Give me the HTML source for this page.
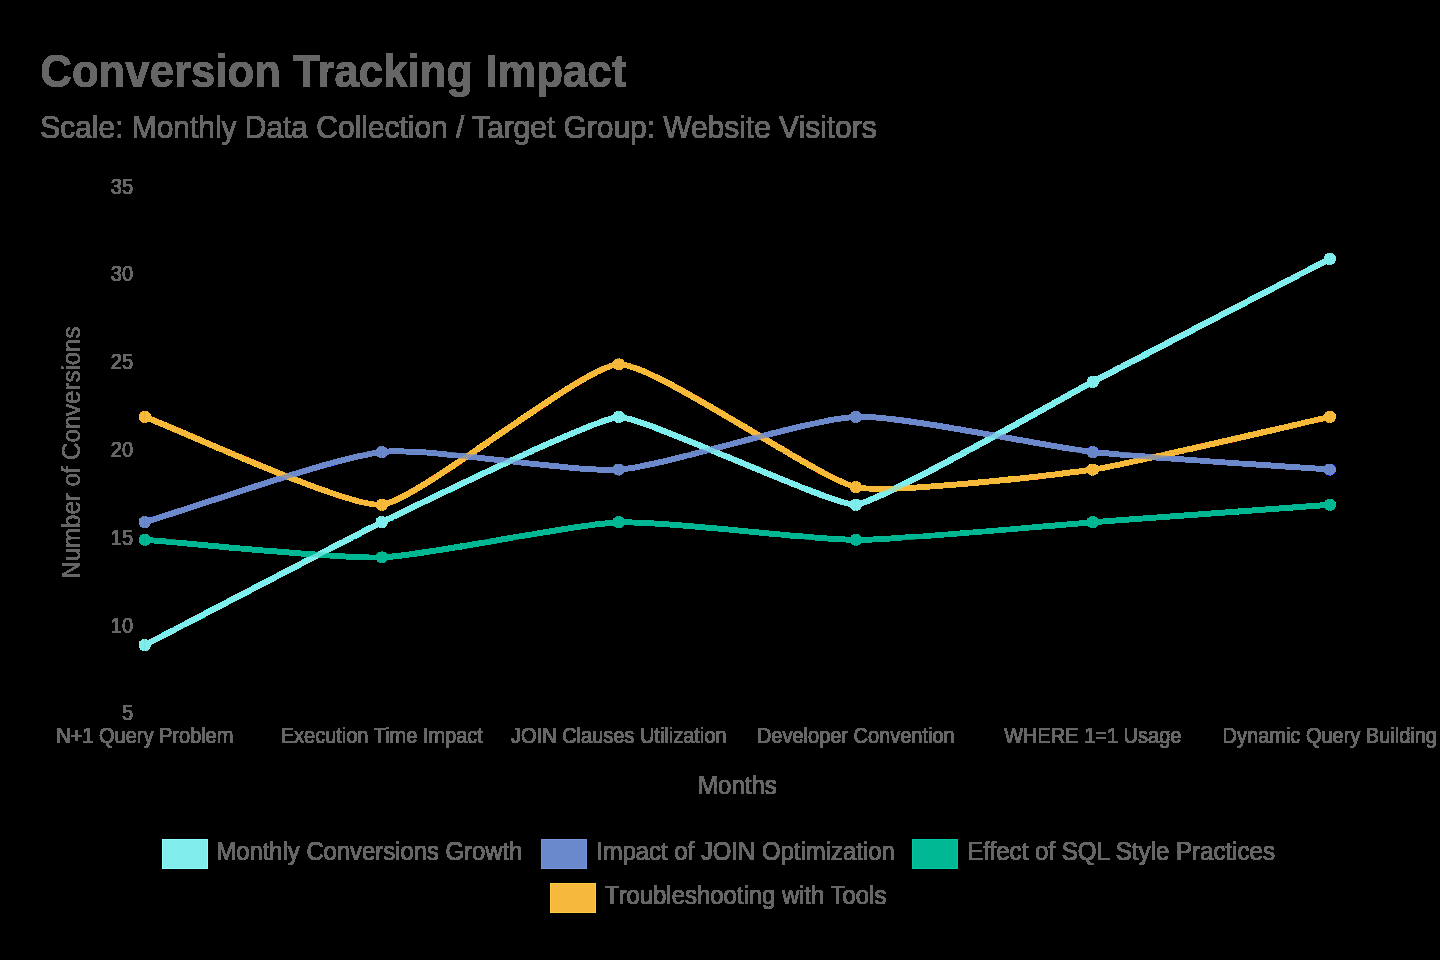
<!DOCTYPE html>
<html><head><meta charset="utf-8"><title>Conversion Tracking Impact</title>
<style>
html,body{margin:0;padding:0;background:#000;}
body{width:1440px;height:960px;overflow:hidden;font-family:"Liberation Sans",sans-serif;}
svg{display:block;position:absolute;left:0;top:0;}
text{font-family:"Liberation Sans",sans-serif;fill:#666666;}
</style></head><body>
<svg width="1440" height="960" viewBox="0 0 1440 960">
<defs><filter id="harden" x="0" y="0" width="1440" height="960" filterUnits="userSpaceOnUse" color-interpolation-filters="sRGB"><feComponentTransfer><feFuncA type="discrete" tableValues="0 1 1 1 1 1 1 1 1 1 1 1 1 1 1 1 1 1 1 1 1 1 1 1 1 1 1 1 1 1 1 1 1 1 1 1 1 1 1 1 1 1 1 1 1 1 1 1 1 1 1 1 1 1 1 1 1 1 1 1 1 1 1 1 1 1 1 1 1 1 1 1 1 1 1 1 1 1 1 1 1 1 1 1 1 1 1 1 1 1 1 1 1 1 1 1 1 1 1 1 1 1 1 1 1 1 1 1 1 1 1 1 1 1 1 1 1 1 1 1 1 1 1 1 1 1 1 1 1 1 1 1 1 1 1 1 1 1 1 1 1 1 1 1 1 1 1 1 1 1 1 1 1 1 1 1 1 1 1 1 1 1 1 1 1 1 1 1 1 1 1 1 1 1 1 1 1 1 1 1 1 1 1 1 1 1 1 1 1 1 1 1 1 1 1 1 1 1 1 1 1 1 1 1 1 1 1 1 1 1 1 1 1 1 1 1 1 1 1 1 1 1 1 1 1 1 1 1 1 1 1 1 1 1 1 1 1 1 1 1 1 1 1 1 1 1 1 1 1 1 1 1 1 1 1 1"/></feComponentTransfer></filter><filter id="thr" x="0" y="0" width="1440" height="960" filterUnits="userSpaceOnUse" color-interpolation-filters="sRGB"><feComponentTransfer><feFuncA type="discrete" tableValues="0 1 1 1 1 1 1 1"/></feComponentTransfer></filter></defs>
<rect width="1440" height="960" fill="#000"/>
<g filter="url(#harden)">
<text transform="translate(40.30,87.20) scale(1,1.05)" font-size="43.76" font-weight="bold">Conversion Tracking Impact</text>
<text transform="translate(40.30,137.60) scale(1,1.05)" font-size="29.93">Scale: Monthly Data Collection / Target Group: Website Visitors</text>
<text transform="translate(133.00,720.33) scale(1,1.08)" font-size="20" text-anchor="end">5</text>
<text transform="translate(133.00,632.55) scale(1,1.08)" font-size="20" text-anchor="end">10</text>
<text transform="translate(133.00,544.77) scale(1,1.08)" font-size="20" text-anchor="end">15</text>
<text transform="translate(133.00,457.00) scale(1,1.08)" font-size="20" text-anchor="end">20</text>
<text transform="translate(133.00,369.23) scale(1,1.08)" font-size="20" text-anchor="end">25</text>
<text transform="translate(133.00,281.45) scale(1,1.08)" font-size="20" text-anchor="end">30</text>
<text transform="translate(133.00,193.68) scale(1,1.08)" font-size="20" text-anchor="end">35</text>
<text transform="translate(144.80,743.00) scale(1,1.08)" font-size="20" text-anchor="middle">N+1 Query Problem</text>
<text transform="translate(381.80,743.00) scale(1,1.08)" font-size="20" text-anchor="middle">Execution Time Impact</text>
<text transform="translate(618.80,743.00) scale(1,1.08)" font-size="20" text-anchor="middle">JOIN Clauses Utilization</text>
<text transform="translate(855.80,743.00) scale(1,1.08)" font-size="20" text-anchor="middle">Developer Convention</text>
<text transform="translate(1092.80,743.00) scale(1,1.08)" font-size="20" text-anchor="middle">WHERE 1=1 Usage</text>
<text transform="translate(1329.80,743.00) scale(1,1.08)" font-size="20" text-anchor="middle">Dynamic Query Building</text>
<text transform="translate(737.40,793.60) scale(1,1.05)" font-size="24" text-anchor="middle">Months</text>
<rect x="144" y="188.68" width="1" height="526.65" fill="#000" fill-opacity="0.1"/>
<rect x="381" y="188.68" width="1" height="526.65" fill="#000" fill-opacity="0.1"/>
<rect x="618" y="188.68" width="1" height="526.65" fill="#000" fill-opacity="0.1"/>
<rect x="855" y="188.68" width="1" height="526.65" fill="#000" fill-opacity="0.1"/>
<rect x="1092" y="188.68" width="1" height="526.65" fill="#000" fill-opacity="0.1"/>
<rect x="1329" y="188.68" width="1" height="526.65" fill="#000" fill-opacity="0.1"/>
<rect x="144.80" y="715" width="1185.00" height="1" fill="#000" fill-opacity="0.1"/>
<rect x="144.80" y="627" width="1185.00" height="1" fill="#000" fill-opacity="0.1"/>
<rect x="144.80" y="539" width="1185.00" height="1" fill="#000" fill-opacity="0.1"/>
<rect x="144.80" y="452" width="1185.00" height="1" fill="#000" fill-opacity="0.1"/>
<rect x="144.80" y="364" width="1185.00" height="1" fill="#000" fill-opacity="0.1"/>
<rect x="144.80" y="276" width="1185.00" height="1" fill="#000" fill-opacity="0.1"/>
<rect x="144.80" y="188" width="1185.00" height="1" fill="#000" fill-opacity="0.1"/>
<path d="M144.80,416.89 C180.35,430.06 347.78,508.44 381.80,504.67 C418.88,500.54 582.69,365.56 618.80,364.23 C653.79,362.93 818.18,478.75 855.80,487.11 C889.28,494.55 1057.63,474.77 1092.80,469.56 C1128.73,464.23 1294.25,424.79 1329.80,416.89" fill="none" stroke="#f6b93b" stroke-opacity="0.6" stroke-width="5.0" stroke-linejoin="miter" stroke-linecap="butt"/>
<path d="M144.80,539.77 C192.20,543.29 334.59,559.08 381.80,557.33 C429.39,555.57 571.21,523.98 618.80,522.22 C666.01,520.47 808.40,539.77 855.80,539.77 C903.20,539.77 1045.40,525.73 1092.80,522.22 C1140.20,518.71 1282.40,508.18 1329.80,504.67" fill="none" stroke="#00b894" stroke-opacity="0.6" stroke-width="5.0" stroke-linejoin="miter" stroke-linecap="butt"/>
<path d="M144.80,522.22 C192.20,508.18 333.47,457.37 381.80,452.00 C428.27,446.84 571.91,473.03 618.80,469.56 C666.71,466.01 808.09,418.66 855.80,416.89 C902.89,415.15 1045.21,446.71 1092.80,452.00 C1140.01,457.25 1282.40,466.04 1329.80,469.56" fill="none" stroke="#6a89cc" stroke-opacity="0.6" stroke-width="5.0" stroke-linejoin="miter" stroke-linecap="butt"/>
<path d="M144.80,645.11 C168.50,632.82 357.76,533.80 381.80,522.22 C405.16,510.97 594.79,417.78 618.80,416.89 C642.19,416.02 832.75,506.37 855.80,504.67 C880.15,502.86 1069.10,394.07 1092.80,381.78 C1116.50,369.49 1306.10,271.18 1329.80,258.89" fill="none" stroke="#81ecec" stroke-opacity="0.6" stroke-width="5.0" stroke-linejoin="miter" stroke-linecap="butt"/>
<circle cx="144.80" cy="416.89" r="5.6" fill="#f6b93b" fill-opacity="0.6"/>
<circle cx="381.80" cy="504.67" r="5.6" fill="#f6b93b" fill-opacity="0.6"/>
<circle cx="618.80" cy="364.23" r="5.6" fill="#f6b93b" fill-opacity="0.6"/>
<circle cx="855.80" cy="487.11" r="5.6" fill="#f6b93b" fill-opacity="0.6"/>
<circle cx="1092.80" cy="469.56" r="5.6" fill="#f6b93b" fill-opacity="0.6"/>
<circle cx="1329.80" cy="416.89" r="5.6" fill="#f6b93b" fill-opacity="0.6"/>
<circle cx="144.80" cy="539.77" r="5.6" fill="#00b894" fill-opacity="0.6"/>
<circle cx="381.80" cy="557.33" r="5.6" fill="#00b894" fill-opacity="0.6"/>
<circle cx="618.80" cy="522.22" r="5.6" fill="#00b894" fill-opacity="0.6"/>
<circle cx="855.80" cy="539.77" r="5.6" fill="#00b894" fill-opacity="0.6"/>
<circle cx="1092.80" cy="522.22" r="5.6" fill="#00b894" fill-opacity="0.6"/>
<circle cx="1329.80" cy="504.67" r="5.6" fill="#00b894" fill-opacity="0.6"/>
<circle cx="144.80" cy="522.22" r="5.6" fill="#6a89cc" fill-opacity="0.6"/>
<circle cx="381.80" cy="452.00" r="5.6" fill="#6a89cc" fill-opacity="0.6"/>
<circle cx="618.80" cy="469.56" r="5.6" fill="#6a89cc" fill-opacity="0.6"/>
<circle cx="855.80" cy="416.89" r="5.6" fill="#6a89cc" fill-opacity="0.6"/>
<circle cx="1092.80" cy="452.00" r="5.6" fill="#6a89cc" fill-opacity="0.6"/>
<circle cx="1329.80" cy="469.56" r="5.6" fill="#6a89cc" fill-opacity="0.6"/>
<circle cx="144.80" cy="645.11" r="5.6" fill="#81ecec" fill-opacity="0.6"/>
<circle cx="381.80" cy="522.22" r="5.6" fill="#81ecec" fill-opacity="0.6"/>
<circle cx="618.80" cy="416.89" r="5.6" fill="#81ecec" fill-opacity="0.6"/>
<circle cx="855.80" cy="504.67" r="5.6" fill="#81ecec" fill-opacity="0.6"/>
<circle cx="1092.80" cy="381.78" r="5.6" fill="#81ecec" fill-opacity="0.6"/>
<circle cx="1329.80" cy="258.89" r="5.6" fill="#81ecec" fill-opacity="0.6"/>
<rect x="162" y="839" width="46" height="30" fill="#8effff"/>
<rect x="163" y="840" width="44" height="28" fill="#81ecec"/>
<text transform="translate(216.30,860.00) scale(1,1.05)" font-size="23.84">Monthly Conversions Growth</text>
<rect x="541" y="839" width="46" height="30" fill="#7597e0"/>
<rect x="542" y="840" width="44" height="28" fill="#6a89cc"/>
<text transform="translate(596.00,860.00) scale(1,1.05)" font-size="23.9">Impact of JOIN Optimization</text>
<rect x="912" y="839" width="46" height="30" fill="#00caa3"/>
<rect x="913" y="840" width="44" height="28" fill="#00b894"/>
<text transform="translate(967.20,860.00) scale(1,1.05)" font-size="24.1">Effect of SQL Style Practices</text>
<rect x="550" y="883" width="46" height="30" fill="#ffcc41"/>
<rect x="551" y="884" width="44" height="28" fill="#f6b93b"/>
<text transform="translate(604.80,904.00) scale(1,1.05)" font-size="23.9">Troubleshooting with Tools</text>
</g>
<g filter="url(#thr)"><text transform="translate(79.50,452.60) rotate(-90) scale(1,1.05)" font-size="24" text-anchor="middle">Number of Conversions</text></g>
</svg></body></html>
